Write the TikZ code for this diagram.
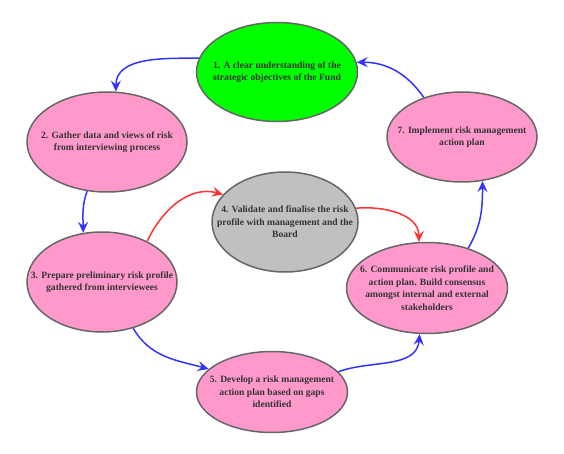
\documentclass[tikz,border=0pt]{standalone}
\usepackage{fontspec}
\setmainfont{Liberation Serif}
\usetikzlibrary{shapes.geometric,arrows.meta}
\definecolor{stagepink}{HTML}{FF99CC}
\definecolor{stagegreen}{HTML}{00FF00}
\definecolor{stagegray}{HTML}{C0C0C0}
\definecolor{rimgray}{HTML}{666666}
\definecolor{inkgray}{HTML}{333333}
\definecolor{loopblue}{HTML}{3333FF}
\definecolor{reviewred}{HTML}{FF3333}
\begin{document}
\begin{tikzpicture}[x=1pt,y=-1pt,
  stage/.style={ellipse,draw=rimgray,fill=stagepink,line width=1.5pt,inner xsep=-60pt,inner ysep=-35pt,align=center,text=inkgray,font=\bfseries\fontsize{9.6}{12.6}\selectfont},
  loop/.style={draw=loopblue,line width=1.5pt,-{Stealth[length=11pt,width=10pt,inset=4pt]}},
  review/.style={loop,draw=reviewred}]
\useasboundingbox (0,0) rectangle (564,454);
\node[stage,fill=stagegreen,minimum width=161pt,minimum height=99pt] (s1) at (277,72) {1. A clear understanding of the\\strategic objectives of the Fund};
\node[stage,minimum width=160pt,minimum height=100pt] (s2) at (107,142) {2. Gather data and views of risk\\from interviewing process};
\node[stage,minimum width=150pt,minimum height=100pt] (s3) at (102,282) {3. Prepare preliminary risk profile\\gathered from interviewees};
\node[stage,fill=stagegray,minimum width=146pt,minimum height=100pt] (s4) at (285,222) {4. Validate and finalise the risk\\profile with management and the\\Board};
\node[stage,minimum width=151pt,minimum height=81pt] (s5) at (272,392) {5. Develop a risk management\\action plan based on gaps\\identified};
\node[stage,minimum width=161pt,minimum height=91pt] (s6) at (427,288) {6. Communicate risk profile and\\action plan. Build consensus\\amongst internal and external\\stakeholders};
\node[stage,minimum width=150pt,minimum height=90pt] (s7) at (462,137) {7. Implement risk management\\action plan};
\draw[loop] (s1.170) to[out=180,in=90] (s2.80);
\draw[loop] (s2.248) to[out=250,in=90] (s3.111);
\draw[loop] (s3.-56) to[out=-60,in=165] (s5.160);
\draw[loop] (s5.17) to[out=20,in=-95] (s6.-99);
\draw[loop] (s6.44) to[out=60,in=-90] (s7.-65);
\draw[loop] (s7.134) to[out=125,in=0] (s1.7);
\draw[review] (s3.42) to[out=65,in=165] (s4.156);
\draw[review] (s4.11) to[out=5,in=90] (s6.100);
\end{tikzpicture}
\end{document}
